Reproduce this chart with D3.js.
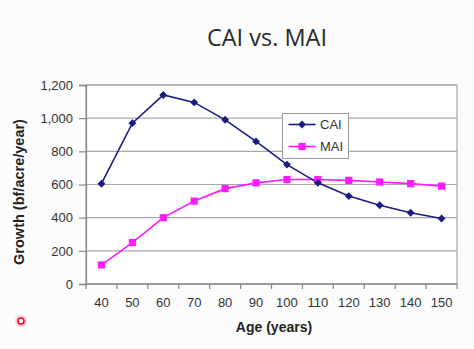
<!DOCTYPE html>
<html>
<head>
<meta charset="utf-8">
<script src="https://cdn.jsdelivr.net/npm/d3@7/dist/d3.min.js"></script>
<style>
  html, body { margin: 0; padding: 0; background: #fcfcfd; }
  svg { display: block; }
</style>
</head>
<body>
<svg id="chart" width="474" height="349"></svg>
<script>
// Stand age (years) and growth in board feet per acre per year
const ages = [40, 50, 60, 70, 80, 90, 100, 110, 120, 130, 140, 150];
const caiValues = [605, 970, 1140, 1095, 990, 860, 720, 610, 530, 475, 430, 395];
const maiValues = [115, 250, 400, 500, 575, 610, 630, 630, 625, 615, 605, 590];
const yTicks = [0, 200, 400, 600, 800, 1000, 1200];
const seriesNames = ["CAI", "MAI"];

const svg = d3.select("#chart");
const plot = { left: 86, right: 457, top: 85, bottom: 284 };
const sans = "Liberation Sans, Arial, sans-serif";

const x = d3.scaleBand().domain(ages).range([plot.left, plot.right]);
const y = d3.scaleLinear().domain([0, 1200]).range([plot.bottom, plot.top]);

// Plot area background and gridlines
svg.append("rect")
  .attr("x", plot.left).attr("y", plot.top)
  .attr("width", plot.right - plot.left).attr("height", plot.bottom - plot.top)
  .attr("fill", "#ffffff").attr("stroke", "#a8a8a8").attr("stroke-width", 1.2);

svg.append("g").selectAll("line").data(yTicks.slice(1)).join("line")
  .attr("x1", plot.left).attr("x2", plot.right)
  .attr("y1", d => y(d)).attr("y2", d => y(d))
  .attr("stroke", "#a8a8a8").attr("stroke-width", 1.2);

// Y axis
const yAxis = svg.append("g")
  .attr("transform", `translate(${plot.left},0)`)
  .call(d3.axisLeft(y).tickValues(yTicks).tickFormat(d3.format(",")).tickSize(7).tickPadding(6));
yAxis.select(".domain").attr("stroke", "#888").attr("stroke-width", 1.3);
yAxis.selectAll(".tick line").attr("stroke", "#888").attr("stroke-width", 1.2);
yAxis.selectAll("text")
  .attr("font-family", sans).attr("font-size", 13).attr("fill", "#333");

// X axis: ticks at category boundaries, labels centred in each band
const xAxis = svg.append("g").attr("transform", `translate(0,${plot.bottom})`);
xAxis.append("line")
  .attr("x1", plot.left).attr("x2", plot.right)
  .attr("stroke", "#888").attr("stroke-width", 1.3);
const bounds = ages.map(a => x(a)).concat([x(ages[ages.length - 1]) + x.bandwidth()]);
xAxis.selectAll("line.tk").data(bounds).join("line").attr("class", "tk")
  .attr("x1", d => d).attr("x2", d => d).attr("y1", 0).attr("y2", 5)
  .attr("stroke", "#888").attr("stroke-width", 1.2);
xAxis.selectAll("text").data(ages).join("text")
  .attr("x", d => x(d) + x.bandwidth() / 2).attr("y", 22.5)
  .attr("text-anchor", "middle")
  .attr("font-family", sans).attr("font-size", 13).attr("fill", "#333")
  .text(d => d);

const cx = d => x(d) + x.bandwidth() / 2;

// Series lines
const line = d3.line().x(d => cx(d.age)).y(d => y(d.v));
const caiData = ages.map((a, i) => ({ age: a, v: caiValues[i] }));
const maiData = ages.map((a, i) => ({ age: a, v: maiValues[i] }));

const caiColor = "#1c1c80";
const maiColor = "#ff1aff";

svg.append("path").datum(maiData)
  .attr("d", line).attr("fill", "none")
  .attr("stroke", maiColor).attr("stroke-width", 1.6);
svg.append("path").datum(caiData)
  .attr("d", line).attr("fill", "none")
  .attr("stroke", caiColor).attr("stroke-width", 1.6);

const diamond = d3.symbol().type(d3.symbolDiamond2).size(40);
const square = d3.symbol().type(d3.symbolSquare).size(52);

svg.append("g").selectAll("path").data(maiData).join("path")
  .attr("transform", d => `translate(${cx(d.age)},${y(d.v)})`)
  .attr("d", square).attr("fill", maiColor);
svg.append("g").selectAll("path").data(caiData).join("path")
  .attr("transform", d => `translate(${cx(d.age)},${y(d.v)})`)
  .attr("d", diamond).attr("fill", caiColor);

// Legend
const legend = svg.append("g").attr("transform", "translate(282.5,113.5)");
legend.append("rect").attr("width", 66).attr("height", 45)
  .attr("fill", "#ffffff").attr("stroke", "#9a9a9a").attr("stroke-width", 1);
const legendItems = [
  { name: seriesNames[0], color: caiColor, sym: diamond, yy: 11 },
  { name: seriesNames[1], color: maiColor, sym: square, yy: 33 }
];
legendItems.forEach(it => {
  legend.append("line").attr("x1", 6).attr("x2", 33).attr("y1", it.yy).attr("y2", it.yy)
    .attr("stroke", it.color).attr("stroke-width", 1.6);
  legend.append("path").attr("transform", `translate(19.5,${it.yy})`)
    .attr("d", it.sym).attr("fill", it.color);
  legend.append("text").attr("x", 37.5).attr("y", it.yy + 4.7)
    .attr("font-family", sans).attr("font-size", 13).attr("fill", "#333").text(it.name);
});

// Titles
svg.append("text").attr("x", 267).attr("y", 45.5).attr("text-anchor", "middle")
  .attr("font-family", "Open Sans, Lato, sans-serif").attr("font-size", 23.5)
  .attr("fill", "#2a2a2a").text("CAI vs. MAI");

svg.append("text").attr("x", 274).attr("y", 331.5).attr("text-anchor", "middle")
  .attr("font-family", sans).attr("font-weight", "bold")
  .attr("font-size", 14).attr("fill", "#222").text("Age (years)");

svg.append("text")
  .attr("transform", "translate(23.5,192) rotate(-90)")
  .attr("text-anchor", "middle")
  .attr("font-family", sans).attr("font-weight", "bold")
  .attr("font-size", 14.5).attr("fill", "#222").text("Growth (bf/acre/year)");

// Pointer marker in the lower-left corner
svg.append("circle").attr("cx", 21).attr("cy", 321).attr("r", 6)
  .attr("fill", "#f3b9c3").attr("opacity", 0.7);
svg.append("circle").attr("cx", 21).attr("cy", 321).attr("r", 3)
  .attr("fill", "#ffffff").attr("stroke", "#e0102a").attr("stroke-width", 1.6);
</script>
</body>
</html>
